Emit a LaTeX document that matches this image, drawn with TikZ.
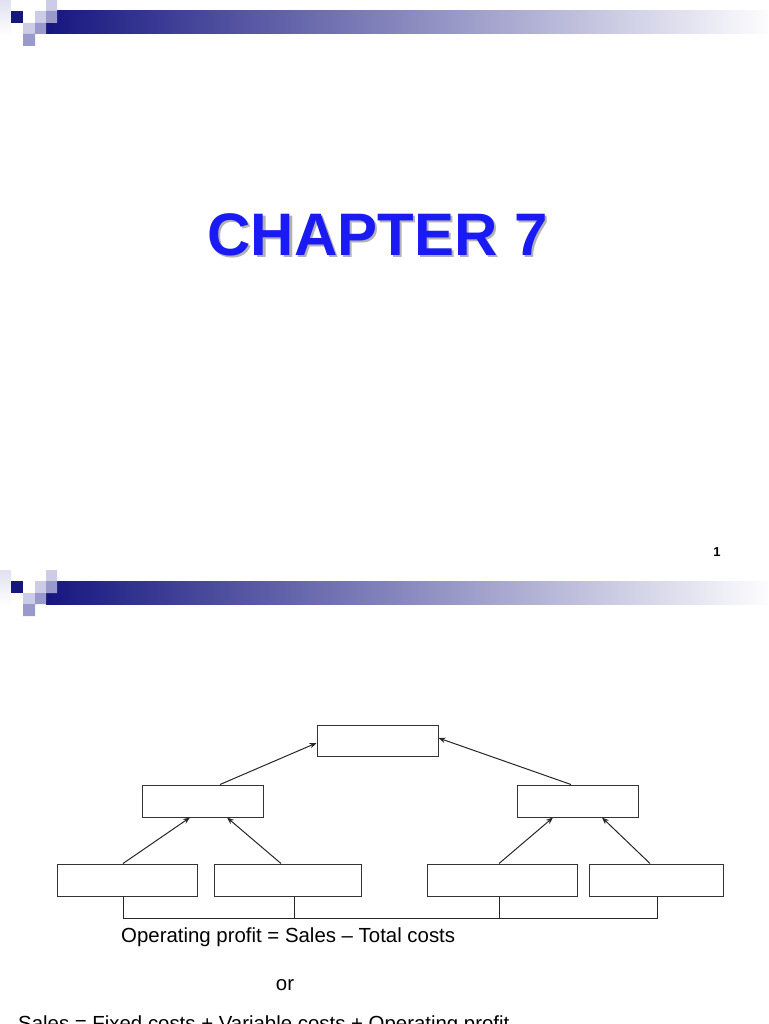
\documentclass[tikz,border=0pt]{standalone}
\usepackage{fontspec}
\setmainfont{Liberation Sans}
\usetikzlibrary{arrows.meta}
\definecolor{navy}{RGB}{22,22,128}
\definecolor{lilac}{RGB}{204,204,230}
\definecolor{lavender}{RGB}{153,153,204}
\definecolor{chapblue}{RGB}{26,26,245}
\tikzset{
  box/.style={draw=black!80, line width=1pt, inner sep=0pt, minimum height=31pt},
  arr/.style={-{Stealth[length=7pt,width=5.5pt]}, line width=1pt, black!85},
  brace/.style={line width=1pt, black!85},
  slidetext/.style={font=\fontsize{20.4}{24}\selectfont, inner sep=0pt},
  chaptext/.style={font=\fontsize{60}{72}\selectfont\bfseries, inner sep=0pt, anchor=base},
}

\begin{document}
\begin{tikzpicture}[x=1pt,y=-1pt]
  \useasboundingbox (0,0) rectangle (768,1024);
  \clip (0,0) rectangle (768,1024);
  %headers
  \foreach \off in {0,570} {
    \begin{scope}[shift={(0,\off)}]
      \shade[top color=lilac!60, bottom color=white] (0,0) rectangle (11,35);
      \shade[left color=navy, right color=white!95!lilac] (46,11) rectangle (768,34);
      \fill[navy] (11,11) rectangle (23,23);
      \fill[lilac] (46,0) rectangle (57,11) (35,11) rectangle (46,23) (23,23) rectangle (35,34);
      \fill[lavender] (46,11) rectangle (57,23) (35,23) rectangle (46,34) (23,34) rectangle (35,46);
    \end{scope}
  }
  %title slide
  \node[chaptext, text=black!30] (chapshadow) at (380,257.5) {CHAPTER 7};
  \node[chaptext, text=chapblue] (chapter) at (377.5,255) {CHAPTER 7};
  \node[font=\fontsize{13}{15}\selectfont\bfseries, anchor=base, inner sep=0pt] (pagenum) at (717,556) {1};
  %boxes
  \node[box, minimum width=121pt] (top) at (377.5,740.5) {};
  \node[box, minimum width=121pt, minimum height=32pt] (midl) at (202.5,801) {};
  \node[box, minimum width=121pt, minimum height=32pt] (midr) at (577.5,801) {};
  \node[box, minimum width=140pt, minimum height=32pt] (bot1) at (127,880) {};
  \node[box, minimum width=147pt, minimum height=32pt] (bot2) at (287.5,880) {};
  \node[box, minimum width=150pt, minimum height=32pt] (bot3) at (502,880) {};
  \node[box, minimum width=134pt, minimum height=32pt] (bot4) at (656,880) {};
  %arrows
  \draw[arr] ([xshift=17.5pt]midl.north) -- ([yshift=-2.5pt]top.west);
  \draw[arr] ([xshift=-6.5pt]midr.north) -- ([yshift=2.5pt]top.east);
  \draw[arr] ([xshift=-4pt]bot1.north) -- ([xshift=-12.5pt]midl.south);
  \draw[arr] ([xshift=-6.5pt]bot2.north) -- ([xshift=24.5pt]midl.south);
  \draw[arr] ([xshift=-3pt]bot3.north) -- ([xshift=-24.5pt]midr.south);
  \draw[arr] ([xshift=-6pt]bot4.north) -- ([xshift=24.5pt]midr.south);
  %bracket
  \coordinate (brk) at (0,918);
  \draw[brace] ([xshift=-4pt]bot1.south) |- ([xshift=1pt]bot4.south |- brk) -- ([xshift=1pt]bot4.south);
  \draw[brace] ([xshift=6.5pt]bot2.south) -- ([xshift=6.5pt]bot2.south |- brk);
  \draw[brace] ([xshift=-3pt]bot3.south) -- ([xshift=-3pt]bot3.south |- brk);
  %text
  \node[slidetext, anchor=base west] (eqone) at (121,942) {Operating profit = Sales – Total costs};
  \node[slidetext, anchor=base] (ortext) at (285,990) {or};
  \node[slidetext, anchor=base west] (eqtwo) at (18,1030) {Sales = Fixed costs + Variable costs + Operating profit};
\end{tikzpicture}
\end{document}
